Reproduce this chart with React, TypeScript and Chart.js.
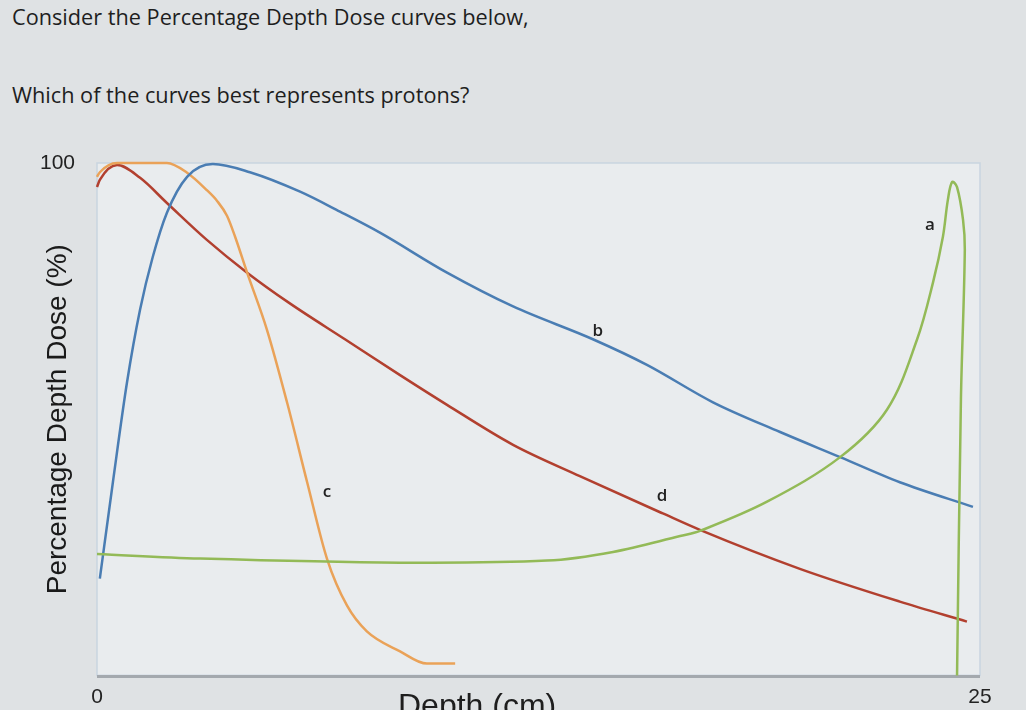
import React, { useEffect, useRef } from "react";
import { Chart, registerables } from "chart.js";

Chart.register(...registerables);

// Curve a (green)
const depthA = [0, 2.92, 8.58, 12.74, 14.61, 16.51, 17.07, 18.97, 21.04, 22.37, 23.22, 23.67, 23.95, 24.09, 24.21, 24.35, 24.52, 24.57, 24.46, 24.35];
const doseA = [23.7, 22.8, 22.0, 22.4, 24.1, 27.2, 28.2, 33.9, 42.6, 51.9, 65.6, 76.7, 85.6, 92.8, 96.3, 95.3, 88.9, 83.1, 53.9, 0];

// Curve b (blue)
const depthB = [0.08, 0.45, 0.85, 1.22, 1.58, 1.98, 2.55, 3.28, 4.33, 5.75, 6.88, 8.01, 9.91, 11.78, 14.04, 15.57, 17.44, 19.34, 21.04, 22.73, 24.8];
const doseB = [18.9, 37.7, 57.2, 71.4, 81.7, 90.3, 97.3, 99.8, 98.2, 94.4, 90.5, 86.4, 78.6, 72.0, 65.6, 60.6, 53.3, 47.5, 42.6, 37.7, 32.9];

// Curve c (orange)
const depthC = [0, 0.08, 0.57, 1.98, 2.55, 3.11, 3.4, 3.68, 3.91, 4.25, 4.81, 5.38, 5.95, 6.51, 7.08, 7.64, 8.58, 9.34, 10.14];
const doseC = [97.3, 98.2, 100, 100, 98.1, 94.7, 92.6, 89.7, 85.6, 78.6, 67.5, 53.3, 37.7, 22.8, 13.6, 8.6, 4.7, 2.3, 2.3];

// Curve d (red)
const depthD = [0, 0.08, 0.57, 1.22, 1.98, 3.11, 4.25, 5.46, 7.02, 8.58, 9.91, 11.78, 13.67, 16.02, 17.07, 19.9, 22.73, 24.63];
const doseD = [95.3, 96.7, 99.6, 97.1, 92.2, 85.0, 78.6, 72.6, 65.6, 58.6, 52.8, 45.0, 38.9, 31.6, 28.4, 20.8, 14.4, 10.5];

// Curve name labels
const curveNames = ["a", "b", "c", "d"];
const labelDepth = [23.58, 14.18, 6.51, 16.0];
const labelDose = [87.9, 67.1, 35.8, 35.0];

const xTicks = [0, 25];
const yTicks = [100];

const pts = (xs: number[], ys: number[]) => xs.map((x, i) => ({ x, y: ys[i] }));

const plotBg = {
  id: "plotBg",
  beforeDraw(chart: any) {
    const { ctx, chartArea: a } = chart;
    ctx.save();
    ctx.fillStyle = "#e9ecee";
    ctx.fillRect(a.left, a.top, a.right - a.left, a.bottom - a.top);
    ctx.strokeStyle = "#c9d5e0";
    ctx.lineWidth = 1.5;
    ctx.strokeRect(a.left, a.top, a.right - a.left, a.bottom - a.top);
    ctx.strokeStyle = "#a4a9ae";
    ctx.lineWidth = 3;
    ctx.beginPath();
    ctx.moveTo(a.left, a.bottom + 1);
    ctx.lineTo(a.right, a.bottom + 1);
    ctx.stroke();
    ctx.restore();
  },
};

const curveLabels = {
  id: "curveLabels",
  afterDatasetsDraw(chart: any) {
    const { ctx, scales } = chart;
    ctx.save();
    ctx.fillStyle = "#222";
    ctx.font = "600 17px 'Open Sans', sans-serif";
    ctx.textAlign = "center";
    ctx.textBaseline = "middle";
    curveNames.forEach((n, i) => {
      ctx.fillText(n, scales.x.getPixelForValue(labelDepth[i]), scales.y.getPixelForValue(labelDose[i]));
    });
    ctx.restore();
  },
};

export default function App() {
  const ref = useRef<HTMLCanvasElement | null>(null);
  useEffect(() => {
    if (!ref.current) return;
    const mk = (label: string, xs: number[], ys: number[], color: string, monotone: boolean) => ({
      label,
      data: pts(xs, ys),
      borderColor: color,
      backgroundColor: color,
      borderWidth: 2.5,
      pointRadius: 0,
      tension: 0.35,
      cubicInterpolationMode: monotone ? "monotone" : "default",
      clip: false as any,
      fill: false,
    });
    const chart = new Chart(ref.current, {
      type: "line",
      data: {
        datasets: [
          mk("a", depthA, doseA, "#93ba57", false),
          mk("b", depthB, doseB, "#4a7db3", true),
          mk("c", depthC, doseC, "#eaa258", true),
          mk("d", depthD, doseD, "#b2402f", true),
        ],
      },
      options: {
        animation: false,
        responsive: false,
        devicePixelRatio: 1,
        layout: { padding: { left: 0, right: 46, top: 163, bottom: 0 } },
        plugins: { legend: { display: false }, tooltip: { enabled: false } },
        scales: {
          x: {
            type: "linear",
            min: 0,
            max: 25,
            grid: { display: false, drawTicks: false },
            border: { display: false },
            afterBuildTicks: (s: any) => {
              s.ticks = xTicks.map((v) => ({ value: v }));
            },
            afterFit: (s: any) => {
              s.height = 33;
            },
            ticks: {
              padding: 9,
              color: "#222",
              font: { family: "'Liberation Sans', Arial, sans-serif", size: 21 },
              maxRotation: 0,
            },
          },
          y: {
            type: "linear",
            min: 0,
            max: 100,
            grid: { display: false, drawTicks: false },
            border: { display: false },
            afterBuildTicks: (s: any) => {
              s.ticks = yTicks.map((v) => ({ value: v }));
            },
            afterFit: (s: any) => {
              s.width = 97;
            },
            ticks: {
              padding: 22,
              color: "#222",
              font: { family: "'Liberation Sans', Arial, sans-serif", size: 21 },
            },
            title: {
              display: true,
              text: "Percentage Depth Dose (%)",
              color: "#1a1a1a",
              font: { family: "'Liberation Sans', Arial, sans-serif", size: 28, weight: "normal" },
              padding: { top: 41, bottom: 0 },
            },
          },
        },
      },
      plugins: [plotBg, curveLabels],
    } as any);
    return () => chart.destroy();
  }, []);

  const textStyle: React.CSSProperties = {
    position: "absolute",
    left: 12,
    fontFamily: "'Open Sans', sans-serif",
    fontSize: 21.7,
    color: "#1e1e1e",
    whiteSpace: "nowrap",
  };

  return (
    <div
      style={{
        position: "fixed",
        left: 0,
        top: 0,
        width: 1026,
        height: 710,
        overflow: "hidden",
        background: "#dfe2e4",
      }}
    >
      <div style={{ ...textStyle, top: 2 }}>Consider the Percentage Depth Dose curves below,</div>
      <div style={{ ...textStyle, top: 80 }}>Which of the curves best represents protons?</div>
      <canvas ref={ref} width={1026} height={710} style={{ position: "absolute", left: 0, top: 0 }} />
      <div
        style={{
          position: "absolute",
          left: 398,
          top: 687,
          fontFamily: "'Liberation Sans', Arial, sans-serif",
          fontSize: 32,
          color: "#1e1e1e",
          whiteSpace: "nowrap",
        }}
      >
        Depth (cm)
      </div>
    </div>
  );
}
